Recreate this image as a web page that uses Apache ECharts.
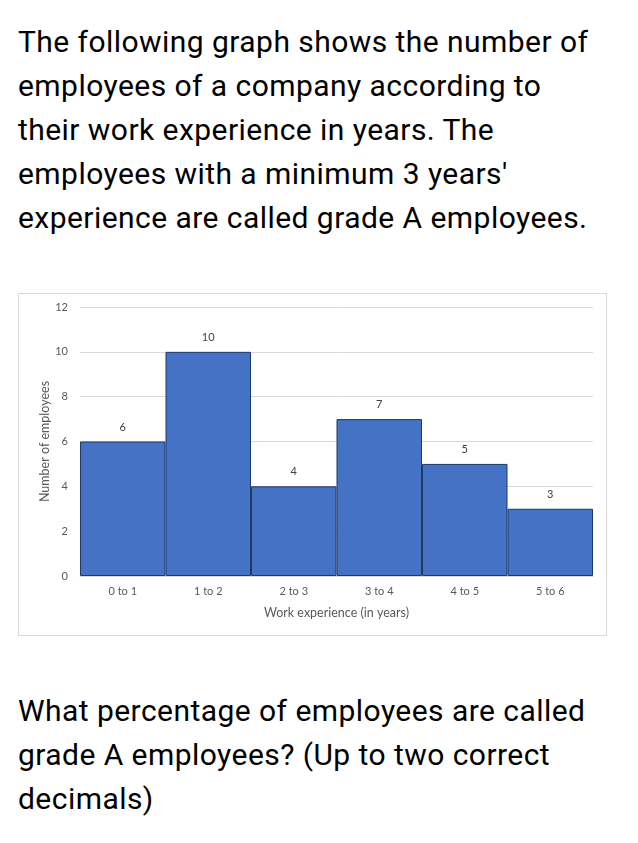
<!DOCTYPE html>
<html>
<head>
<meta charset="utf-8">
<script src="https://cdn.jsdelivr.net/npm/echarts@6/dist/echarts.min.js"></script>
<style>
  html, body { margin: 0; padding: 0; background: #fff; width: 638px; height: 843px; overflow: hidden; }
  .para { position: absolute; left: 18px; font-family: Roboto, "Noto Sans", sans-serif; font-size: 30px; letter-spacing: 0.45px; line-height: 44px; color: #000; white-space: nowrap; }
  #top { top: 20px; }
  #bottom { top: 689px; }
  #chart { position: absolute; left: 18px; top: 293px; width: 589px; height: 343px; border: 1px solid #d9d9d9; box-sizing: border-box; }
</style>
</head>
<body>
<div class="para" id="top">The following graph shows the number of<br>employees of a company according to<br>their work experience in years. The<br>employees with a minimum 3 years'<br>experience are called grade A employees.</div>
<div id="chart"></div>
<div class="para" id="bottom">What percentage of employees are called<br>grade A employees? (Up to two correct<br>decimals)</div>
<script>
const categories = ["0 to 1", "1 to 2", "2 to 3", "3 to 4", "4 to 5", "5 to 6"];
const employees = [6, 10, 4, 7, 5, 3];
const yTicks = { min: 0, max: 12, interval: 2 };
const xAxisTitle = "Work experience (in years)";
const yAxisTitle = "Number of employees";

const chart = echarts.init(document.getElementById('chart'));
const font = 'Lato, "Open Sans", sans-serif';
chart.setOption({
  animation: false,
  grid: { left: 61, right: 13, top: 13, bottom: 59, containLabel: false },
  xAxis: {
    type: 'category',
    data: categories,
    name: xAxisTitle,
    nameLocation: 'middle',
    nameGap: 30,
    nameTextStyle: { color: '#595959', fontSize: 12.5, fontFamily: font },
    axisLine: { show: true, lineStyle: { color: '#d9d9d9' } },
    axisTick: { show: false },
    axisLabel: { color: '#595959', fontSize: 11, fontFamily: font, margin: 10 }
  },
  yAxis: {
    type: 'value',
    min: yTicks.min, max: yTicks.max, interval: yTicks.interval,
    name: yAxisTitle,
    nameLocation: 'middle',
    nameGap: 29,
    nameMoveOverlap: false,
    nameTextStyle: { color: '#595959', fontSize: 12.5, fontFamily: font },
    axisLine: { show: false },
    axisTick: { show: false },
    axisLabel: { color: '#595959', fontSize: 11, fontFamily: font, margin: 12 },
    splitLine: { lineStyle: { color: '#d9d9d9', width: 1 } }
  },
  series: [{
    type: 'bar',
    data: employees,
    barCategoryGap: '0%',
    itemStyle: { color: '#4472C4', borderColor: '#1F3864', borderWidth: 1 },
    label: { show: true, position: 'top', distance: 9, color: '#404040', fontSize: 11, fontFamily: font }
  }]
});
</script>
</body>
</html>
